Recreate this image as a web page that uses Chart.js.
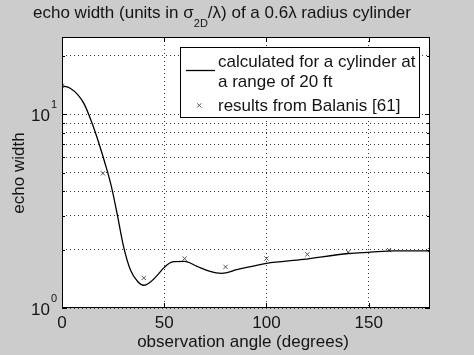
<!DOCTYPE html>
<html><head><meta charset="utf-8">
<script src="https://cdn.jsdelivr.net/npm/chart.js@4/dist/chart.umd.min.js"></script>
<style>html,body{margin:0;padding:0;background:#cccccc;}canvas{display:block;}</style>
</head><body>
<canvas id="c" width="474" height="355"></canvas>
<script>
// ---- data ----
const curveAngles = [0, 4, 8, 11, 14.5, 18, 21, 24, 27, 30, 33.5, 37, 40, 43.5, 47, 50, 54, 60, 66, 72, 78, 86, 100, 118, 140, 151, 162, 180];
const curveEcho   = [14.0, 13.6, 12.5, 11.2, 9.1, 7.1, 5.6, 4.3, 3.05, 2.1, 1.57, 1.37, 1.31, 1.37, 1.49, 1.62, 1.73, 1.74, 1.64, 1.55, 1.51, 1.58, 1.70, 1.78, 1.91, 1.94, 1.97, 1.97];
const balanisAngles = [0, 20, 40, 60, 80, 100, 120, 140, 160, 180];
const balanisEcho   = [14.0, 4.95, 1.43, 1.80, 1.63, 1.80, 1.89, 1.94, 1.99, 1.99];
const xTickValues = [0, 50, 100, 150];
const yGridValues = [1, 2, 3, 4, 5, 6, 7, 8, 9, 10, 20];
const yMajorValues = [1, 10];
const yTickBases = ['10', '10'];
const yTickExps = ['0', '1'];
const titlePre = 'echo width (units in \u03c3';
const titleSub = '2D';
const titlePost = '/\u03bb) of a 0.6\u03bb radius cylinder';
const xLabel = 'observation angle (degrees)';
const yLabel = 'echo width';
const legendLine1 = ['calculated for a cylinder at', 'a range of 20 ft'];
const legendLine2 = 'results from Balanis [61]';

const FONT = '"Liberation Sans", Arial, Helvetica, sans-serif';
const TXT = '#141414';

const decor = {
  id: 'decor',
  beforeDraw(chart) {
    const {ctx, chartArea: a} = chart;
    ctx.save();
    ctx.fillStyle = '#cccccc';
    ctx.fillRect(0, 0, chart.width, chart.height);
    ctx.fillStyle = '#ffffff';
    ctx.fillRect(a.left, a.top, a.right - a.left, a.bottom - a.top);
    ctx.restore();
  },
  afterDraw(chart) {
    const {ctx, chartArea: a, scales} = chart;
    const xs = scales.x, ys = scales.y;
    ctx.save();
    // axes box
    ctx.strokeStyle = '#000';
    ctx.lineWidth = 1;
    ctx.strokeRect(Math.round(a.left) + 0.5, Math.round(a.top) + 0.5, Math.round(a.right - a.left) - 1, Math.round(a.bottom - a.top) - 1);
    // inward ticks
    ctx.beginPath();
    xTickValues.forEach(v => {
      const px = Math.round(xs.getPixelForValue(v)) + 0.5;
      ctx.moveTo(px, a.bottom); ctx.lineTo(px, a.bottom - 5);
      ctx.moveTo(px, a.top); ctx.lineTo(px, a.top + 5);
    });
    yGridValues.forEach(v => {
      const py = Math.round(ys.getPixelForValue(v)) + 0.5;
      const len = yMajorValues.includes(v) ? 5 : 3;
      ctx.moveTo(a.left, py); ctx.lineTo(a.left + len, py);
      ctx.moveTo(a.right, py); ctx.lineTo(a.right - len, py);
    });
    ctx.stroke();

    ctx.fillStyle = TXT;
    // y tick labels with superscripts
    yMajorValues.forEach((v, i) => {
      const py = ys.getPixelForValue(v);
      ctx.font = '17px ' + FONT;
      ctx.textAlign = 'right';
      ctx.textBaseline = 'alphabetic';
      ctx.fillText(yTickBases[i], 50, py + 6.5);
      ctx.font = '11px ' + FONT;
      ctx.textAlign = 'left';
      ctx.fillText(yTickExps[i], 51, py - 6.5);
    });

    // title
    ctx.textAlign = 'left';
    ctx.textBaseline = 'alphabetic';
    ctx.font = '17px ' + FONT;
    const w1 = ctx.measureText(titlePre).width;
    const w3 = ctx.measureText(titlePost).width;
    ctx.font = '11px ' + FONT;
    const w2 = ctx.measureText(titleSub).width;
    let tx = 222 - (w1 + w2 + w3) / 2;
    ctx.font = '17px ' + FONT;
    ctx.fillText(titlePre, tx, 17.5);
    ctx.font = '11px ' + FONT;
    ctx.fillText(titleSub, tx + w1, 27);
    ctx.font = '17px ' + FONT;
    ctx.fillText(titlePost, tx + w1 + w2, 17.5);

    // x label
    ctx.textAlign = 'center';
    ctx.fillText(xLabel, (a.left + a.right) / 2 - 3, 347);
    // y label
    ctx.save();
    ctx.translate(24, 173);
    ctx.rotate(-Math.PI / 2);
    ctx.fillText(yLabel, 0, 0);
    ctx.restore();

    // legend
    ctx.fillStyle = '#ffffff';
    ctx.fillRect(180, 47, 239.5, 70);
    ctx.strokeStyle = '#000';
    ctx.lineWidth = 1;
    ctx.strokeRect(180.5, 47.5, 239, 70);
    ctx.beginPath();
    ctx.moveTo(186, 70.5); ctx.lineTo(215, 70.5);
    ctx.lineWidth = 1.3;
    ctx.stroke();
    // legend marker
    ctx.beginPath();
    ctx.strokeStyle = '#555';
    ctx.lineWidth = 1;
    ctx.moveTo(197.2, 103.3); ctx.lineTo(201.4, 107.5);
    ctx.moveTo(201.4, 103.3); ctx.lineTo(197.2, 107.5);
    ctx.stroke();
    ctx.fillStyle = TXT;
    ctx.textAlign = 'left';
    ctx.font = '17px ' + FONT;
    ctx.fillText(legendLine1[0], 218, 66.5);
    ctx.fillText(legendLine1[1], 218, 87);
    ctx.fillText(legendLine2, 218, 111);
    ctx.restore();
  }
};

const gridOpts = {color: '#3a3a3a', lineWidth: 1, drawTicks: false};

new Chart(document.getElementById('c'), {
  type: 'scatter',
  data: {
    datasets: [
      {
        label: legendLine1.join(' '),
        data: curveAngles.map((a, i) => ({x: a, y: curveEcho[i]})),
        showLine: true,
        borderColor: '#000',
        borderWidth: 1.3,
        pointRadius: 0,
        cubicInterpolationMode: 'monotone',
        fill: false
      },
      {
        label: legendLine2,
        data: balanisAngles.map((a, i) => ({x: a, y: balanisEcho[i]})),
        showLine: false,
        pointStyle: 'crossRot',
        pointRadius: 3,
        borderColor: '#555',
        backgroundColor: '#555',
        borderWidth: 1
      }
    ]
  },
  options: {
    responsive: false,
    animation: false,
    devicePixelRatio: 1,
    layout: {padding: {left: 0, right: 44, top: 37, bottom: 0}},
    plugins: {legend: {display: false}, title: {display: false}, tooltip: {enabled: false}},
    scales: {
      x: {
        type: 'linear', min: 0, max: 180,
        afterFit: s => { s.height = 47; },
        afterBuildTicks: s => { s.ticks = xTickValues.map(v => ({value: v})); },
        grid: gridOpts,
        border: {display: false, dash: [1, 3]},
        ticks: {padding: 5, color: TXT, font: {family: FONT, size: 17}, maxRotation: 0}
      },
      y: {
        type: 'logarithmic', min: 1, max: 25,
        afterFit: s => { s.width = 62; },
        afterBuildTicks: s => { s.ticks = yGridValues.map(v => ({value: v})); },
        grid: gridOpts,
        border: {display: false, dash: [1, 3]},
        ticks: {display: false}
      }
    }
  },
  plugins: [decor]
});
</script>
</body></html>
